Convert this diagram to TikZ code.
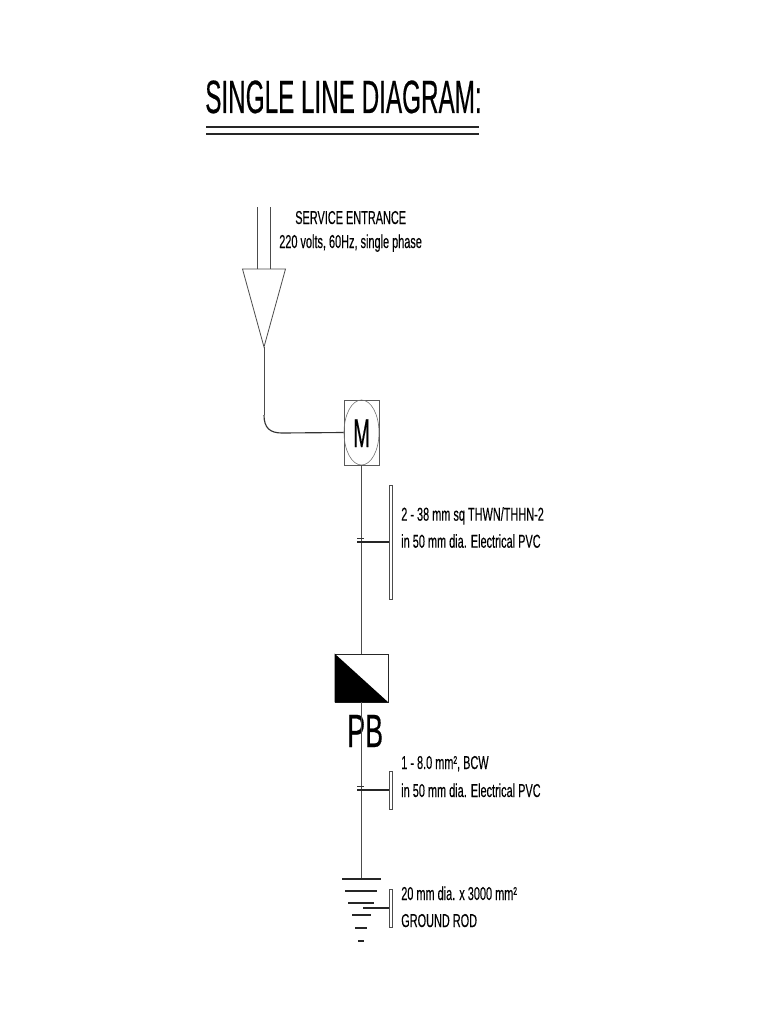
\documentclass[tikz,border=0pt]{standalone}
\usepackage{fontspec}
\usetikzlibrary{shapes.geometric}
\setmainfont{Liberation Sans}
\newfontfamily\smallface[FakeBold=0.25]{Liberation Sans}
\newfontfamily\bigface[FakeBold=0.5]{Liberation Sans}
\newcommand{\nar}[2]{\scalebox{#1}[1]{#2}}
\tikzset{
  x=0.75pt,y=-0.75pt,
  wire/.style={draw=black!80,line width=0.85pt},
  thin wire/.style={draw=black!70,line width=0.6pt},
  heavy/.style={draw=black!85,line width=1.1pt},
  brk/.style={draw=black!70,line width=0.7pt,fill=white},
  lbl/.style={inner sep=0pt,anchor=base west,font=\smallface\fontsize{14pt}{15pt}\selectfont},
  big/.style={inner sep=0pt,anchor=base west,font=\bigface\fontsize{35pt}{38pt}\selectfont}
}
\begin{document}
\begin{tikzpicture}
\useasboundingbox (0,0) rectangle (768,1024);
\fill[white] (0,0) rectangle (768,1024);
% title
\node[big] (title) at (205,113) {\nar{0.52}{SINGLE LINE DIAGRAM:}};
\coordinate (t1a) at (206,127); \coordinate (t1b) at (479,127);
\coordinate (t2a) at (206,134); \coordinate (t2b) at (479,134);
\draw[heavy] (t1a) -- (t1b);
\draw[heavy] (t2a) -- (t2b);
% service entrance
\coordinate (s1) at (257.3,207); \coordinate (s1b) at (257.3,269);
\coordinate (s2) at (270.7,207); \coordinate (s2b) at (270.7,269);
\draw[thin wire] (s1) -- (s1b);
\draw[thin wire] (s2) -- (s2b);
\coordinate (triL) at (242.5,269); \coordinate (triR) at (285.5,269); \coordinate (apex) at (264,347);
\draw[thin wire] (triL) -- (triR) -- (apex) -- cycle;
\node[lbl] (se1) at (295,224) {\nar{0.585}{SERVICE ENTRANCE}};
\node[lbl] (se2) at (279,248) {\nar{0.585}{220 volts, 60Hz, single phase}};
% meter
\node[draw=black!65,line width=0.7pt,minimum width=26.25pt,minimum height=48.75pt,inner sep=0pt] (meter) at (361.5,432.5) {};
\node[draw=black!55,line width=0.45pt,ellipse,minimum width=26.25pt,minimum height=48.75pt,inner sep=0pt] (circ) at (361.5,432.5) {};
\node[inner sep=0pt,anchor=base west,font=\bigface\fontsize{30pt}{32pt}\selectfont] (mtext) at (353,447) {\nar{0.505}{M}};
\coordinate (bend1) at (264,415); \coordinate (bend2) at (282,433);
\draw[thin wire] (apex) -- (bend1);
\draw[wire] (bend1) .. controls (264,428) and (270,433) .. (bend2) -- (meter.west);
% panel board
\node[draw=black!85,line width=0.7pt,minimum width=39.75pt,minimum height=36pt,inner sep=0pt] (pb) at (361.5,678) {};
\fill[black] (pb.north west) -- (pb.south east) -- (pb.south west) -- cycle;
\draw[thin wire] (meter.south) -- (pb.north);
\node[big] (pbt) at (347,747) {\nar{0.575}{PB}};
% lower run and ground
\coordinate (g0a) at (342,879); \coordinate (g0b) at (381,879);
\coordinate (gtop) at (361.5,879);
\draw[thin wire] (pb.south) -- (gtop);
\draw[heavy] (g0a) -- (g0b);
\coordinate (g1a) at (345,891); \coordinate (g1b) at (377,891); \draw[heavy] (g1a) -- (g1b);
\coordinate (g2a) at (348,903); \coordinate (g2b) at (374,903); \draw[heavy] (g2a) -- (g2b);
\coordinate (g3a) at (352,915); \coordinate (g3b) at (371,915); \draw[heavy] (g3a) -- (g3b);
\coordinate (g4a) at (355,928); \coordinate (g4b) at (367,928); \draw[heavy] (g4a) -- (g4b);
\coordinate (g5a) at (358,941); \coordinate (g5b) at (364,941); \draw[heavy] (g5a) -- (g5b);
% callout 1
\node[brk,minimum width=2.2pt,minimum height=85.5pt,inner sep=0pt] (b1) at (391,542) {};
\coordinate (l1) at (357,542);
\draw[heavy] (l1) -- (b1.west);
\coordinate (k1a) at (357,538.5); \coordinate (k1b) at (364,538.5);
\draw[wire] (k1a) -- (k1b);
\node[lbl] (c1a) at (401,520.7) {\nar{0.585}{2 - 38 mm sq THWN/THHN-2}};
\node[lbl] (c1b) at (401,547.7) {\nar{0.585}{in 50 mm dia. Electrical PVC}};
% callout 2
\node[brk,minimum width=2.2pt,minimum height=28.5pt,inner sep=0pt] (b2) at (391,790) {};
\coordinate (l2) at (357,790);
\draw[heavy] (l2) -- (b2.west);
\coordinate (k2a) at (357,786.5); \coordinate (k2b) at (364,786.5);
\draw[wire] (k2a) -- (k2b);
\node[lbl] (c2a) at (401,769) {\nar{0.585}{1 - 8.0 mm², BCW}};
\node[lbl] (c2b) at (401,797) {\nar{0.585}{in 50 mm dia. Electrical PVC}};
% callout 3
\node[brk,minimum width=2.2pt,minimum height=28.5pt,inner sep=0pt] (b3) at (391,908) {};
\coordinate (l3) at (363,908);
\draw[heavy] (l3) -- (b3.west);
\node[lbl] (c3a) at (401,900) {\nar{0.585}{20 mm dia. x 3000 mm²}};
\node[lbl] (c3b) at (401,927) {\nar{0.585}{GROUND ROD}};
\end{tikzpicture}
\end{document}
